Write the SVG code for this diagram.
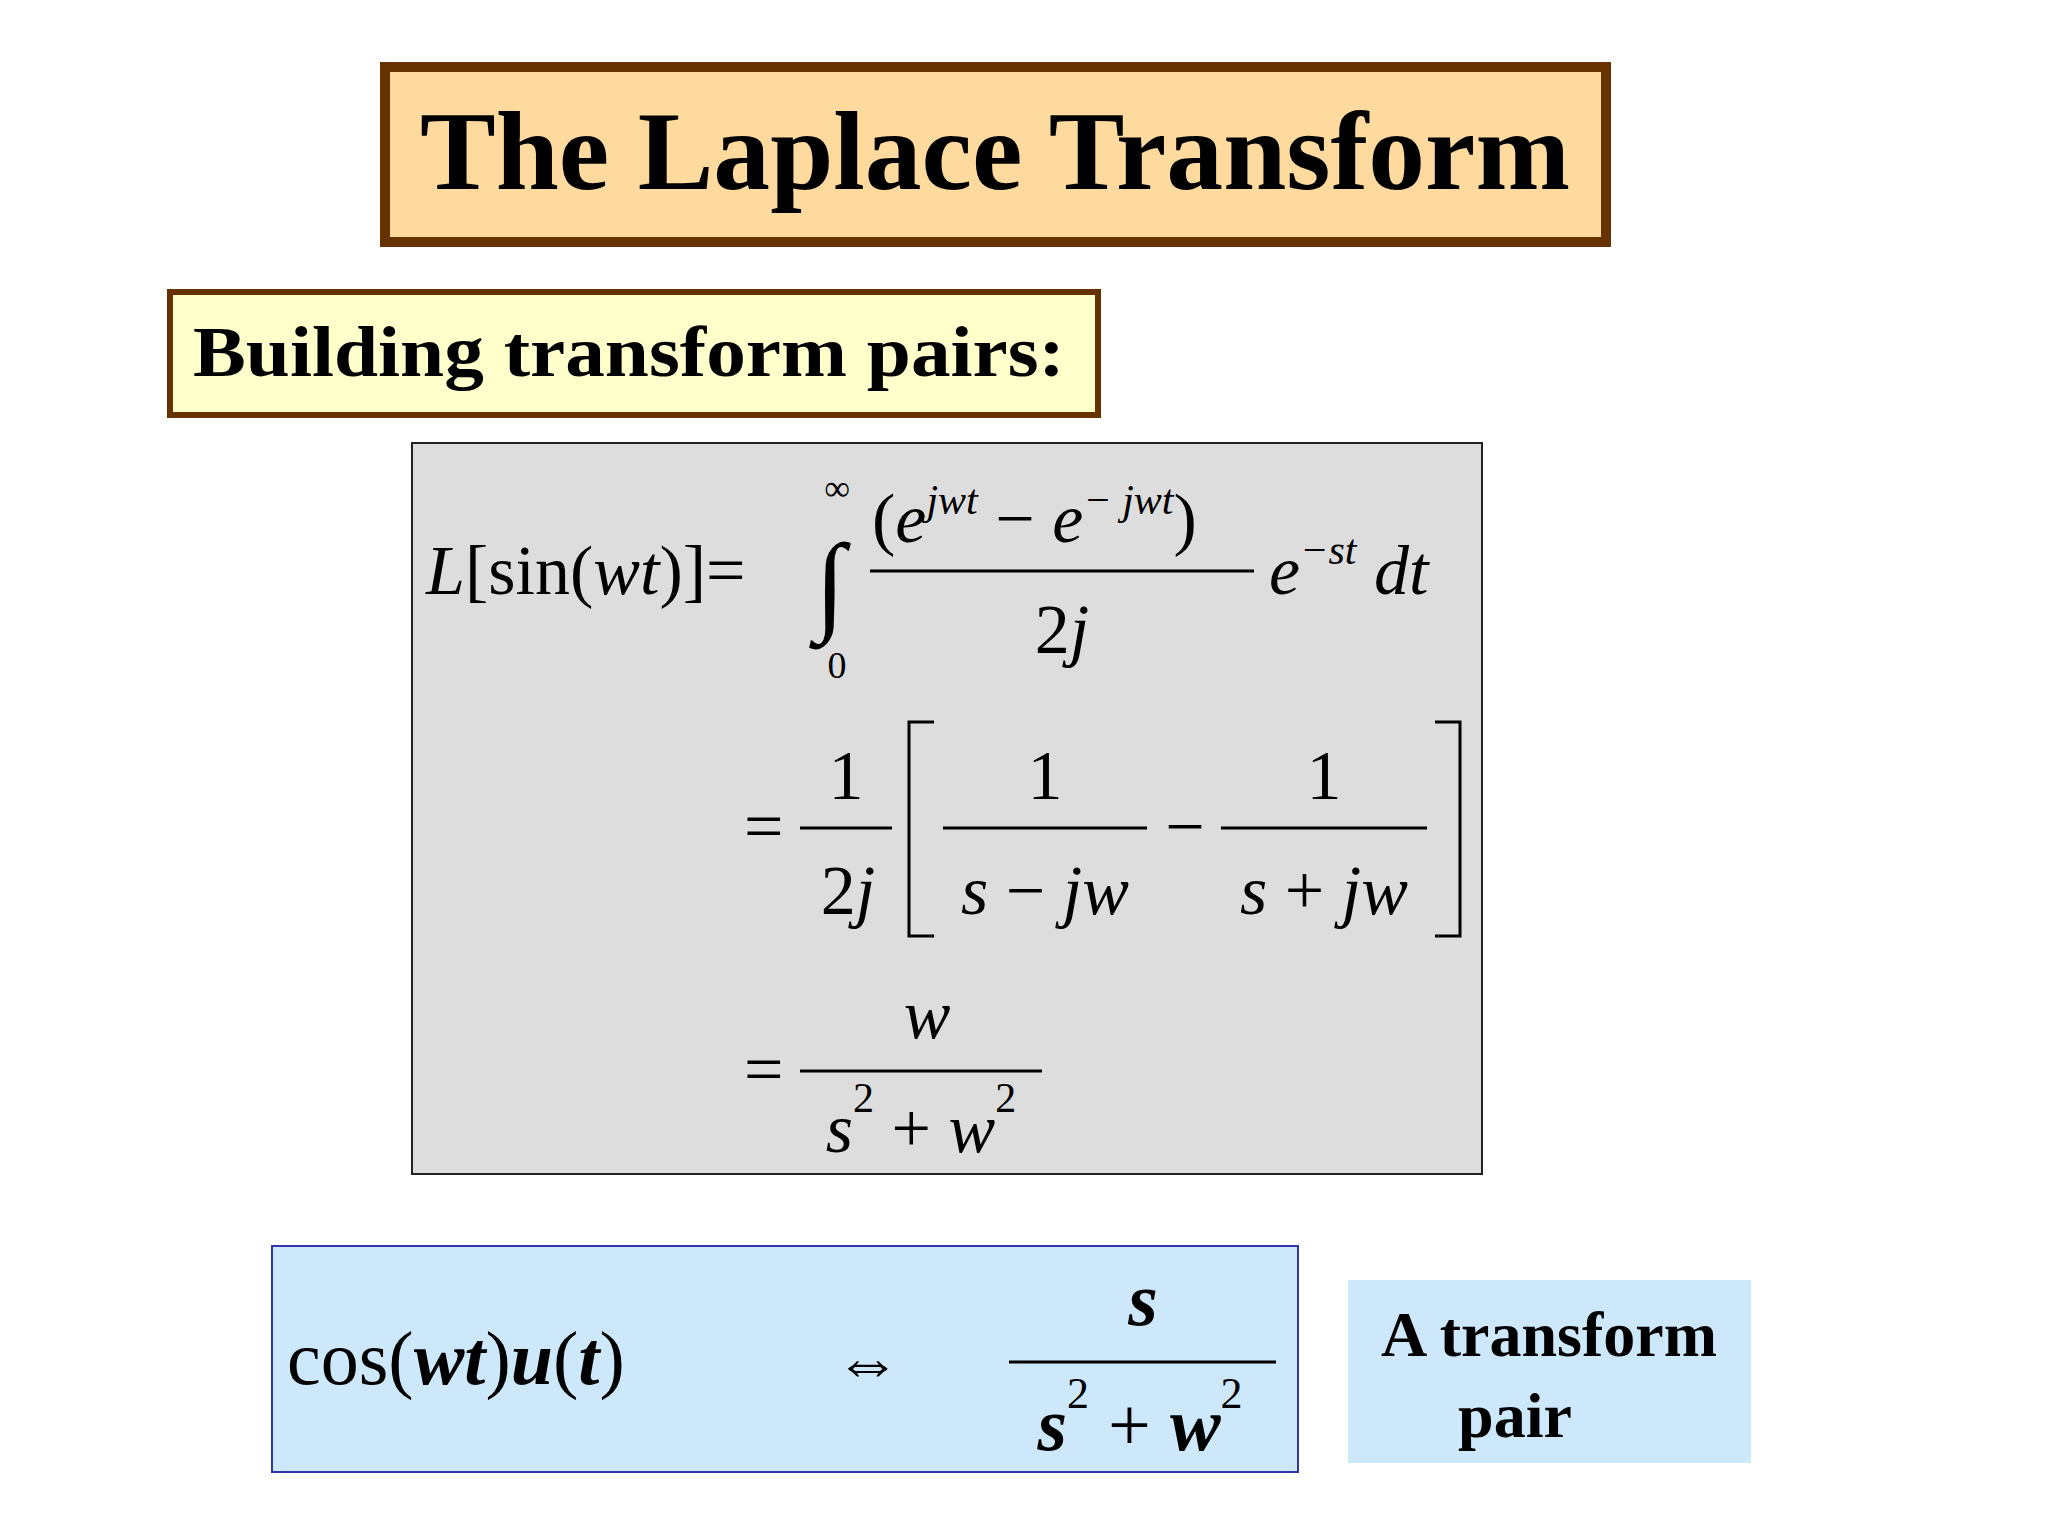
<svg xmlns="http://www.w3.org/2000/svg" width="2048" height="1536" viewBox="0 0 2048 1536">
<style>
text{font-family:"Liberation Serif","Times New Roman",serif;fill:#000}
.m{font-size:70px}
.i{font-style:italic}
.b{font-weight:bold}
.sup{font-size:42px}
.ln{stroke:#000;stroke-width:3;fill:none}
</style>
<rect width="2048" height="1536" fill="#fff"/>
<g id="title">
<rect x="385" y="67" width="1221" height="175" fill="#FFDA9E" stroke="#663300" stroke-width="10"/>
<text x="995" y="189" text-anchor="middle" font-size="112" font-weight="bold" textLength="1150" lengthAdjust="spacingAndGlyphs">The Laplace Transform</text>
</g>
<g id="subtitle">
<rect x="170" y="292" width="928" height="123" fill="#FFFFCC" stroke="#663300" stroke-width="6"/>
<text x="193" y="376" font-size="72" font-weight="bold" textLength="872" lengthAdjust="spacingAndGlyphs">Building transform pairs:</text>
</g>
<g id="derivation">
<rect x="412" y="443" width="1070" height="731" fill="#DDDDDD" stroke="#222" stroke-width="2"/>
<text x="426" y="594" class="m"><tspan class="i">L</tspan>[sin(<tspan class="i">wt</tspan>)]=</text>
<text x="815" y="620" font-size="110" font-family="DejaVu Serif,serif">∫</text>
<text x="837" y="500" font-size="36" text-anchor="middle">∞</text>
<text x="837" y="678" font-size="38" text-anchor="middle">0</text>
<text x="872" y="542" class="m">(<tspan class="i">e</tspan><tspan class="i sup" dy="-28">jwt</tspan><tspan dy="28"> − </tspan><tspan class="i">e</tspan><tspan class="i sup" dy="-28">− jwt</tspan><tspan dy="28">)</tspan></text>
<line class="ln" x1="870" y1="571" x2="1254" y2="571"/>
<text x="1062" y="653" class="m" text-anchor="middle">2<tspan class="i">j</tspan></text>
<text x="1269" y="594" class="m i">e<tspan class="sup" dy="-30">−st</tspan><tspan dy="30"> dt</tspan></text>

<text x="744" y="850" class="m">=</text>
<line class="ln" x1="800" y1="828" x2="892" y2="828"/>
<text x="846" y="799" class="m" text-anchor="middle">1</text>
<text x="848" y="914" class="m" text-anchor="middle">2<tspan class="i">j</tspan></text>
<path class="ln" d="M934 722 H909 V936 H934"/>
<line class="ln" x1="943" y1="828" x2="1147" y2="828"/>
<text x="1045" y="799" class="m" text-anchor="middle">1</text>
<text x="1045" y="914" class="m" text-anchor="middle"><tspan class="i">s</tspan> − <tspan class="i">jw</tspan></text>
<text x="1185" y="850" class="m" text-anchor="middle">−</text>
<line class="ln" x1="1221" y1="828" x2="1427" y2="828"/>
<text x="1324" y="799" class="m" text-anchor="middle">1</text>
<text x="1324" y="914" class="m" text-anchor="middle"><tspan class="i">s</tspan> + <tspan class="i">jw</tspan></text>
<path class="ln" d="M1435 722 H1460 V936 H1435"/>

<text x="744" y="1093" class="m">=</text>
<line class="ln" x1="800" y1="1071" x2="1042" y2="1071"/>
<text x="927" y="1038" class="m i" text-anchor="middle">w</text>
<text x="921" y="1152" class="m" text-anchor="middle"><tspan class="i">s</tspan><tspan class="sup" dy="-40">2</tspan><tspan dy="40"> + </tspan><tspan class="i">w</tspan><tspan class="sup" dy="-40">2</tspan></text>
</g>
<g id="pair">
<rect x="272" y="1246" width="1026" height="226" fill="#CCE8FA" stroke="#3333AA" stroke-width="2"/>
<text x="287" y="1384" font-size="76">cos(<tspan class="b i">wt</tspan>)<tspan class="b i">u</tspan>(<tspan class="b i">t</tspan>)</text>
<text x="868" y="1384" font-size="66" text-anchor="middle" font-family="DejaVu Sans,sans-serif">⇔</text>
<line class="ln" x1="1009" y1="1362" x2="1276" y2="1362"/>
<text x="1143" y="1325" font-size="76" class="b i" text-anchor="middle">s</text>
<text x="1140" y="1450" font-size="76" text-anchor="middle"><tspan class="b i">s</tspan><tspan font-size="44" dy="-42">2</tspan><tspan dy="42"> + </tspan><tspan class="b i">w</tspan><tspan font-size="44" dy="-42">2</tspan></text>
</g>
<g id="label">
<rect x="1348" y="1280" width="403" height="183" fill="#CCE8FA"/>
<text x="1549" y="1356" font-size="64" font-weight="bold" text-anchor="middle">A transform</text>
<text x="1515" y="1437" font-size="64" font-weight="bold" text-anchor="middle">pair</text>
</g>
</svg>
